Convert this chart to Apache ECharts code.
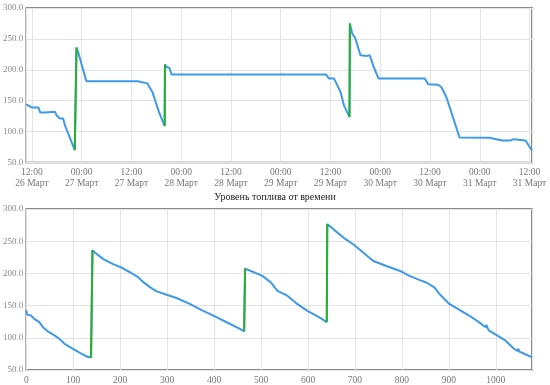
<!DOCTYPE html>
<html><head><meta charset="utf-8">
<script src="https://cdn.jsdelivr.net/npm/echarts@6/dist/echarts.min.js"></script>
<style>html,body{margin:0;padding:0;background:#fff}#c{width:550px;height:385px}</style>
</head><body><div id="c"></div>
<script>
// ---- Top chart: fuel level over time ----
const topTimes = [
 '2015-03-26 10:38','2015-03-26 12:00','2015-03-26 13:35','2015-03-26 13:59','2015-03-26 15:11','2015-03-26 15:35',
 '2015-03-26 17:34','2015-03-26 17:58','2015-03-26 18:46','2015-03-26 19:33','2015-03-26 19:58','2015-03-26 20:22',
 '2015-03-26 22:20','2015-03-26 22:45','2015-03-26 23:08','2015-03-27 01:08','2015-03-27 13:28','2015-03-27 13:52',
 '2015-03-27 15:51','2015-03-27 17:03','2015-03-27 18:39','2015-03-27 20:01','2015-03-27 20:05','2015-03-27 20:38',
 '2015-03-27 21:10','2015-03-27 21:41','2015-03-29 10:52','2015-03-29 11:40','2015-03-29 12:52','2015-03-29 14:26',
 '2015-03-29 15:15','2015-03-29 16:35','2015-03-29 16:41','2015-03-29 17:14','2015-03-29 18:01','2015-03-29 19:13',
 '2015-03-29 20:49','2015-03-29 21:28','2015-03-29 22:25','2015-03-29 23:37','2015-03-30 10:44','2015-03-30 11:34',
 '2015-03-30 13:57','2015-03-30 14:44','2015-03-30 15:56','2015-03-30 17:32','2015-03-30 19:07','2015-03-31 02:16',
 '2015-03-31 05:28','2015-03-31 07:27','2015-03-31 08:14','2015-03-31 11:02','2015-03-31 11:49','2015-03-31 12:36'
];
const topLevels = [
 144,139,139,131,131,134,
 132,126,121,121,110,107,
 70,236,229,181.5,181.5,178.7,
 178,164,131.6,109,208.5,204,
 203,192.5,192.5,185.8,185.8,164,
 142.5,123.5,275,258.8,250.7,223.6,
 222.5,223.6,204.7,185.8,185.8,176.6,
 175.8,172.2,156,123.5,90.5,90,
 85.7,85.7,87.8,85.7,77.6,69.5
];
const topRefuelTimes = [['2015-03-26 22:20','2015-03-26 22:45'],['2015-03-27 20:01','2015-03-27 20:05'],['2015-03-29 16:35','2015-03-29 16:41']];
const topRefuelLevels = [[70,236],[109,208.5],[123.5,275]];
const topTimeMin = '2015-03-26 10:38';
const topTimeMax = '2015-03-31 12:36';
const monthName = 'Март';
const chartTitle = 'Уровень топлива от времени';

// ---- Bottom chart: fuel level by record index ----
const bottomIdx = [
 0,2,10,17,28,35,45,60,70,81,95,116,130,138,
 141,151,165,186,200,222,239,250,264,278,299,320,348,376,405,433,454,464,
 466,486,503,521,535,556,577,598,626,640,
 641,655,676,697,718,739,767,799,816,837,853,855,857,869,880,901,919,943,964,
 978,980,982,985,1006,1019,1021,1023,1038,1046,1048,1050,1056,1077
];
const bottomLevels = [
 143,136,134.6,129.5,124.4,116.7,110.5,103.8,98.7,91,84.9,75.7,70.6,69.5,
 236,229.5,221.8,214,210,201.4,193.7,186,178.3,172.1,166.9,161.8,152.6,142.3,132.1,121.8,114.1,110,
 207.5,201.4,196.2,186,173,165.4,152.6,142.3,131,124.4,
 276.7,268,255.2,244.9,232.1,219.2,211.5,202.9,196.1,190,185.5,188,185,178.3,168,152.6,144.9,134.6,124.4,
 116.5,120,115.5,111.5,102.3,96.5,99.5,95.5,83.4,79.5,83,78.5,76.8,69.5
];
const bottomRefuelIdx = [[138,141],[464,466],[640,641]];
const bottomRefuelLevels = [[69.5,236],[110,207.5],[124.4,276.7]];

const yMin = 50, yMax = 300, yStep = 50;
const xMaxBottom = 1077, xStepBottom = 100;

const blue = '#3d9ae8', green = '#2bb02b';
const serif = '"Liberation Serif","DejaVu Serif",serif';

const chart = echarts.init(document.getElementById('c'));
const pad = n => (n < 10 ? '0' : '') + n;

const series = [];
series.push({type:'line', xAxisIndex:0, yAxisIndex:0, showSymbol:false, symbol:'none',
  lineStyle:{color:blue,width:2}, data: topTimes.map((t,i)=>[t, topLevels[i]]), z:2});
topRefuelTimes.forEach((p,k)=>series.push({type:'line', xAxisIndex:0, yAxisIndex:0, symbol:'none',
  lineStyle:{color:green,width:2}, data: p.map((t,i)=>[t, topRefuelLevels[k][i]]), z:3}));
series.push({type:'line', xAxisIndex:1, yAxisIndex:1, symbol:'none',
  lineStyle:{color:blue,width:2}, data: bottomIdx.map((x,i)=>[x, bottomLevels[i]]), z:2});
bottomRefuelIdx.forEach((p,k)=>series.push({type:'line', xAxisIndex:1, yAxisIndex:1, symbol:'none',
  lineStyle:{color:green,width:2}, data: p.map((x,i)=>[x, bottomRefuelLevels[k][i]]), z:3}));

const yAxisCommon = {type:'value', min:yMin, max:yMax, interval:yStep,
  axisLine:{show:false}, axisTick:{show:false},
  splitLine:{show:true, lineStyle:{color:'#e3e3e3', width:1}},
  axisLabel:{color:'#888', fontFamily:serif, fontSize:9, margin:3, formatter:v=>v.toFixed(1)}};

const halfDay = v => { const d = new Date(v); return d.getMinutes() === 0 && d.getHours() % 12 === 0; };

chart.setOption({
  animation:false,
  title:{text:chartTitle, left:'center', top:187, textStyle:{fontFamily:serif, fontSize:10, fontWeight:'normal', color:'#222'}},
  grid:[
    {left:21.5, top:8, width:510.5, height:154.5, show:true, borderColor:'#666', borderWidth:1.5, backgroundColor:'transparent'},
    {left:21.5, top:209, width:510.5, height:163, show:true, borderColor:'#666', borderWidth:1.5, backgroundColor:'transparent'}
  ],
  xAxis:[
    {type:'time', gridIndex:0, min:topTimeMin, max:topTimeMax, splitNumber:10,
     axisLine:{show:false}, axisTick:{show:false},
     splitLine:{show:true, interval:(i,v)=>halfDay(v), lineStyle:{color:'#e3e3e3', width:1}},
     axisLabel:{color:'#777', fontFamily:serif, fontSize:9.5, margin:4, lineHeight:11, hideOverlap:false,
       interval:(i,v)=>halfDay(v),
       formatter:v=>{const d=new Date(v); if(!halfDay(v)) return ''; return pad(d.getHours())+':'+pad(d.getMinutes())+'\n'+d.getDate()+' '+monthName;}}},
    {type:'value', gridIndex:1, min:0, max:xMaxBottom, interval:xStepBottom,
     axisLine:{show:false}, axisTick:{show:false},
     splitLine:{show:true, lineStyle:{color:'#e3e3e3', width:1}},
     axisLabel:{color:'#777', fontFamily:serif, fontSize:9.5, margin:5,
       formatter:v=>(v % xStepBottom === 0 ? String(v) : '')}}
  ],
  yAxis:[ Object.assign({gridIndex:0}, yAxisCommon), Object.assign({gridIndex:1}, yAxisCommon) ],
  series
});
</script></body></html>
